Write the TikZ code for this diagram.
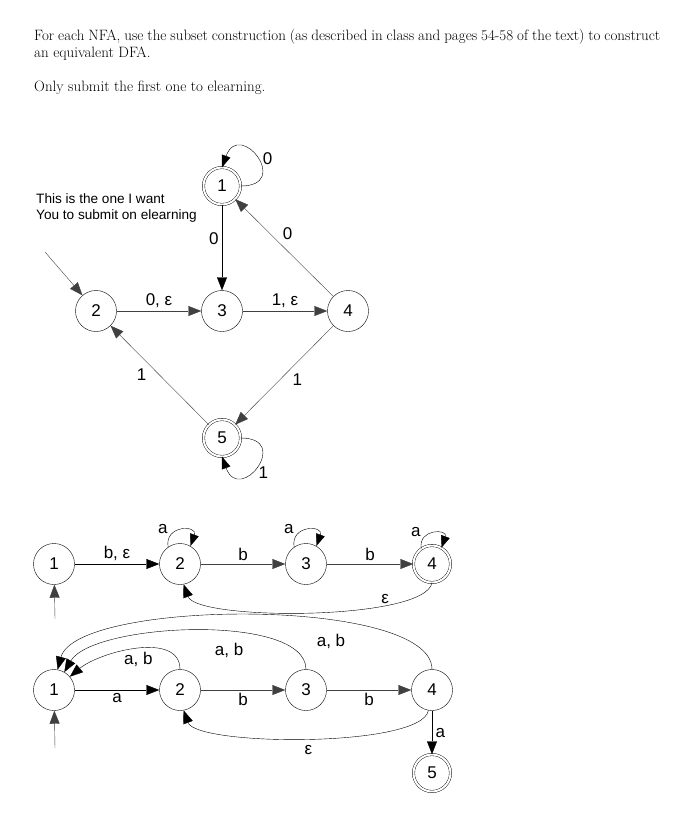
\documentclass[tikz,border=0pt]{standalone}
\usepackage{fontspec}
\newfontfamily\lsans{Liberation Sans}
\usetikzlibrary{arrows.meta}
\begin{document}
\begin{tikzpicture}[x=1pt,y=-1pt,
  st/.style={circle,draw,minimum size=41pt,inner sep=0pt,font=\lsans\fontsize{17}{17}\selectfont},
  acc/.style={st,double,double distance=2pt,minimum size=37pt},
  lbl/.style={font=\lsans\fontsize{17}{17}\selectfont},
  ar/.style={-{Triangle[length=13pt,width=10pt]},draw=black!75},
  lp/.style={-{Triangle[length=12pt,width=9pt]},looseness=6}]
\useasboundingbox (0,0) rectangle (699,836);
\node[anchor=north west,text width=626pt,align=justify,inner sep=0pt,font=\fontsize{15}{17}\selectfont] (hdr) at (34,29)
 {For each NFA, use the subset construction (as described in class and pages 54-58 of the text) to construct an equivalent DFA.\par\vspace{17pt}\noindent Only submit the first one to elearning.};
% NFA 1
\node[acc] (a1) at (222,186) {1};
\node[st] (a2) at (96,311) {2};
\node[st] (a3) at (222,311) {3};
\node[st] (a4) at (348,311) {4};
\node[acc] (a5) at (222,438) {5};
\node[anchor=north west,inner sep=0pt,align=left,font=\lsans\fontsize{13.6}{16}\selectfont] (note) at (36,193) {This is the one I want\\You to submit on elearning};
\coordinate (i1) at (45,252);
\draw[ar] (i1) -- (a2);
\draw[lp,black] (a1.east) to[out=0,in=70,looseness=5] node[lbl,pos=0.4,above right,inner sep=1pt] {0} (a1.north);
\draw[ar,black] (a1) -- node[lbl,left,pos=0.4] {0} (a3);
\draw[ar] (a4) -- node[lbl,above right,pos=0.55] {0} (a1);
\draw[ar] (a2) -- node[lbl,above] {0, ε} (a3);
\draw[ar] (a3) -- node[lbl,above] {1, ε} (a4);
\draw[ar] (a5) -- node[lbl,below left,pos=0.6] {1} (a2);
\draw[ar] (a4) -- node[lbl,below right,pos=0.45] {1} (a5);
\draw[lp,black] (a5.east) to[out=0,in=-70,looseness=5] node[lbl,pos=0.5,below right,inner sep=1pt] {1} (a5.south);
% NFA 2
\node[st] (b1) at (54,564) {1};
\node[st] (b2) at (180,564) {2};
\node[st] (b3) at (306,564) {3};
\node[acc] (b4) at (432,564) {4};
\coordinate (i2) at (55,619);
\draw[ar] (i2) -- (b1);
\draw[ar,black] (b1) -- node[lbl,above] {b, ε} (b2);
\draw[ar] (b2) -- node[lbl,above] {b} (b3);
\draw[ar] (b3) -- node[lbl,above] {b} (b4);
\foreach \n in {b2,b3,b4}{
 \draw[lp,black] (\n.125) to[out=100,in=70,looseness=2.6] coordinate[pos=0.2] (m\n) (\n.60);
 \node[lbl,above left,inner sep=2pt] (t\n) at (m\n) {a};}
\draw[ar,black] (b4.south) to[out=-100,in=-70,looseness=0.4] node[lbl,above right,pos=0.3] {ε} (b2.-80);
% NFA 3
\node[st] (c1) at (54,690) {1};
\node[st] (c2) at (180,690) {2};
\node[st] (c3) at (306,690) {3};
\node[st] (c4) at (432,690) {4};
\node[acc] (c5) at (432,773) {5};
\coordinate (i3) at (55,748);
\draw[ar] (i3) -- (c1);
\draw[ar,black] (c1) -- node[lbl,below] {a} (c2);
\draw[ar] (c2) -- node[lbl,below] {b} (c3);
\draw[ar] (c3) -- node[lbl,below] {b} (c4);
\draw[ar,black] (c4) -- node[lbl,right] {a} (c5);
\draw[ar,black] (c4.-100) to[out=-100,in=-70,looseness=0.4] node[lbl,below,pos=0.5,yshift=-4pt] {ε} (c2.-80);
\draw[ar,black] (c2.north) to[out=90,in=40,looseness=0.9] node[lbl,below left,pos=0.35] {a, b} (c1.40);
\draw[ar,black] (c3.north) to[out=90,in=60,looseness=0.6] node[lbl,below,pos=0.4,yshift=-8pt] {a, b} (c1.60);
\draw[ar,black] (c4.north) to[out=90,in=75,looseness=0.5] node[lbl,below,pos=0.35,yshift=-10pt] {a, b} (c1.80);
\end{tikzpicture}
\end{document}
